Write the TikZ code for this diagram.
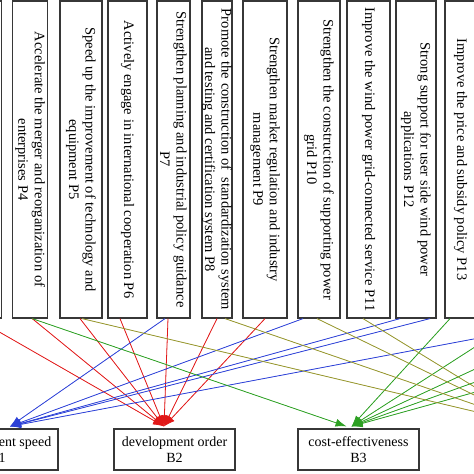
\documentclass[tikz,border=0pt]{standalone}
\usepackage{fontspec}
\setmainfont{Liberation Serif}
\usetikzlibrary{arrows.meta}
\definecolor{lred}{RGB}{225,25,25}
\definecolor{lblue}{RGB}{45,65,215}
\definecolor{lgreen}{RGB}{45,160,35}
\definecolor{lolive}{RGB}{150,150,45}
\definecolor{edgegray}{RGB}{55,55,55}
\begin{document}
\begin{tikzpicture}[x=1pt,y=1pt,
  pbox/.style={draw=edgegray,line width=1.2pt,rotate=-90,minimum width=317pt,minimum height=#1,inner sep=0pt,align=center,font=\fontsize{14.5}{16.5}\selectfont},
  bbox/.style={draw=edgegray,line width=1.2pt,minimum width=121pt,minimum height=41pt,inner sep=0pt,align=center,font=\fontsize{14}{16}\selectfont},
  link/.style={draw=#1,fill=#1,line width=0.8pt,-{Latex[length=11pt,width=8pt]}}]
\useasboundingbox (0,0) rectangle (474,-474);
\clip (0,0) rectangle (474,-474);
\node[pbox=45pt] (P3) at (-21,-159.5) {};
\node[pbox=35pt] (P4) at (30.2,-159.5) {Accelerate the merger and reorganization of\\enterprises P4};
\node[pbox=42pt] (P5) at (81,-159.5) {Speed up the improvement of technology and\\equipment P5};
\node[pbox=39pt] (P6) at (127.5,-159.5) {Actively engage in international cooperation P6};
\node[pbox=33pt] (P7) at (173.5,-159.5) {Strengthen planning and industrial policy guidance\\P7};
\node[pbox=30pt] (P8) at (217,-159.5) {Promote the construction of~ standardization system\\and testing and certification system P8};
\node[pbox=44pt] (P9) at (265,-159.5) {Strengthen market regulation and industry\\management P9};
\node[pbox=42pt] (P10) at (319,-159.5) {Strengthen the construction of supporting power\\grid P10};
\node[pbox=43pt] (P11) at (368.5,-159.5) {Improve the wind power grid-connected service P11};
\node[pbox=40pt] (P12) at (416,-159.5) {Strong support for user side wind power\\applications P12};
\node[pbox=31pt] (P13) at (460.5,-159.5) {Improve the price and subsidy policy P13};
\coordinate (P14) at (520,-318);
\coordinate (P15) at (585,-318);
\coordinate (P16) at (654,-318);
\coordinate (P17) at (743,-318);
\node[bbox] (B1) at (-2.5,-449.5) {development speed\\B1};
\node[bbox] (B2) at (174.5,-449.5) {development order\\B2};
\node[bbox] (B3) at (358.5,-449.5) {cost-effectiveness\\B3};
\coordinate (B4) at (540,-427);
\draw[link=lred] ([xshift=-3pt]P3.east) -- ([xshift=-10.5pt,yshift=2pt]B2.north);
\draw[link=lred] ([xshift=2pt]P4.east) -- ([xshift=-10.5pt,yshift=2pt]B2.north);
\draw[link=lred] ([xshift=-1pt]P5.east) -- ([xshift=-10.5pt,yshift=2pt]B2.north);
\draw[link=lred] ([xshift=-7.5pt]P6.east) -- ([xshift=-10.5pt,yshift=2pt]B2.north);
\draw[link=lred] ([xshift=-5.5pt]P7.east) -- ([xshift=-10.5pt,yshift=2pt]B2.north);
\draw[link=lred] (P8.east) -- ([xshift=-10.5pt,yshift=2pt]B2.north);
\draw[link=lred] (P9.east) -- ([xshift=-10.5pt,yshift=2pt]B2.north);
\draw[link=lblue] ([xshift=-8.5pt]P7.east) -- ([xshift=12.5pt,yshift=2pt]B1.north);
\draw[link=lblue] ([xshift=-16pt]P10.east) -- ([xshift=12.5pt,yshift=2pt]B1.north);
\draw[link=lblue] ([xshift=-16pt]P12.east) -- ([xshift=12.5pt,yshift=2pt]B1.north);
\draw[link=lblue] ([xshift=14pt]P12.east) -- ([xshift=12.5pt,yshift=2pt]B1.north);
\draw[link=lblue] (P15) -- ([xshift=12.5pt,yshift=2pt]B1.north);
\draw[link=lgreen] ([xshift=2pt]P4.east) -- ([xshift=-12pt,yshift=2pt]B3.north);
\draw[link=lgreen] ([xshift=-10.5pt]P13.east) -- ([xshift=-7pt,yshift=2pt]B3.north);
\draw[link=lgreen] (P14) -- ([xshift=-7pt,yshift=2pt]B3.north);
\draw[link=lgreen] (P15) -- ([xshift=-7pt,yshift=2pt]B3.north);
\draw[link=lgreen] (P16) -- ([xshift=-7pt,yshift=2pt]B3.north);
\draw[link=lgreen] (P17) -- ([xshift=-7pt,yshift=2pt]B3.north);
\draw[link=lolive] ([xshift=1pt]P5.east) -- (B4);
\draw[link=lolive] ([xshift=8pt]P8.east) -- (B4);
\draw[link=lolive] ([xshift=-2pt]P10.east) -- (B4);
\draw[link=lolive] ([xshift=-5.5pt]P11.east) -- (B4);
\end{tikzpicture}
\end{document}
